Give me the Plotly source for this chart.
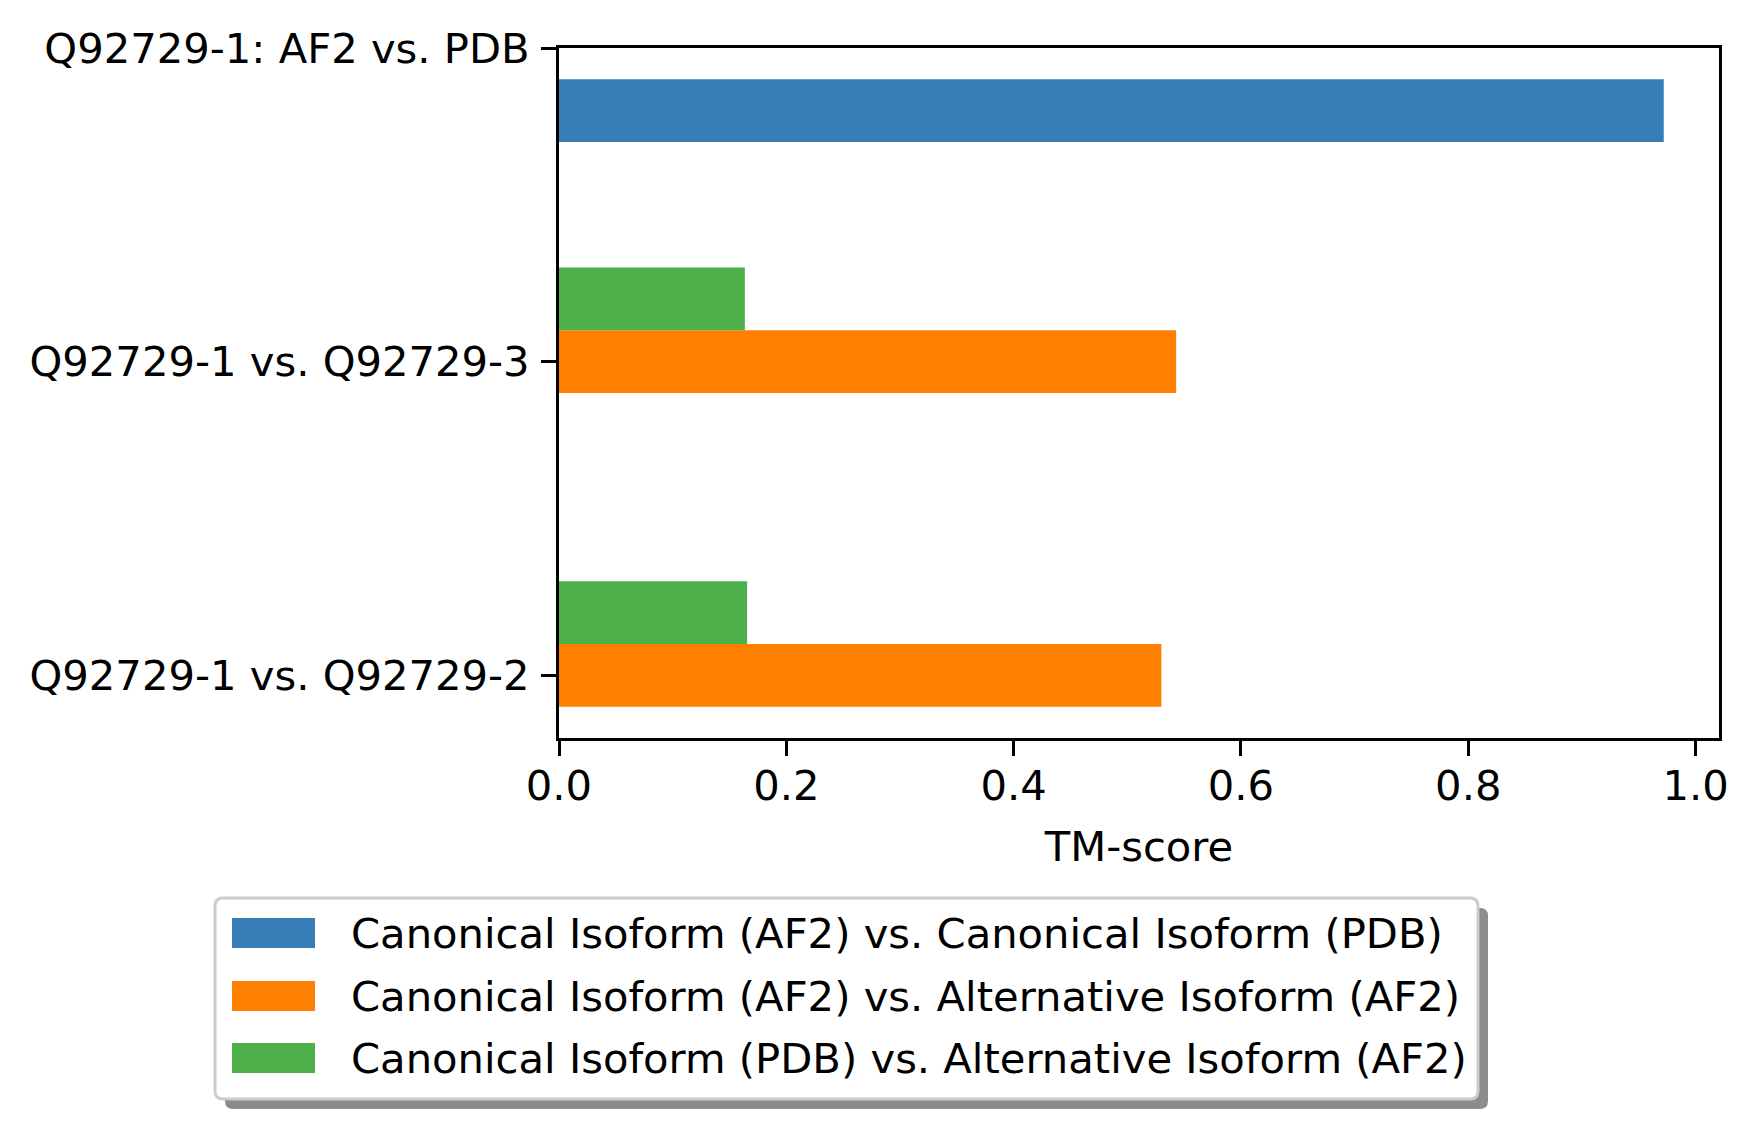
"""Horizontal grouped bars of TM-scores for Q92729 isoform comparisons."""

import plotly.graph_objects as go

# --- data ---------------------------------------------------------------
categories = [
    "Q92729-1 vs. Q92729-2",
    "Q92729-1 vs. Q92729-3",
    "Q92729-1: AF2 vs. PDB",
]
series_names = [
    "Canonical Isoform (AF2) vs. Canonical Isoform (PDB)",
    "Canonical Isoform (AF2) vs. Alternative Isoform (AF2)",
    "Canonical Isoform (PDB) vs. Alternative Isoform (AF2)",
]
af2_vs_pdb = [None, None, 0.972]
af2_vs_alt = [0.530, 0.543, None]
pdb_vs_alt = [0.1655, 0.1635, None]
x_ticks = [0.0, 0.2, 0.4, 0.6, 0.8, 1.0]

# --- styling ------------------------------------------------------------
W, H = 1759, 1129
L, R, T, B = 551, 1711, 40, 730  # plot area in pixels
FONT = "DejaVu Sans"
FS = 41.7
colors = ["#377eb8", "#ff7f00", "#4daf4a"]
bar_w = 0.2
offsets = [-0.3, -0.1, 0.1]


def px_x(px):
    return (px - L) / (R - L)


def px_y(py):
    return (B - py) / (B - T)


def rounded_rect(x0, y0, x1, y1, r):
    # path in paper coords from pixel corners, corner radius r px
    p = [
        f"M{px_x(x0 + r)},{px_y(y0)}",
        f"L{px_x(x1 - r)},{px_y(y0)}",
        f"Q{px_x(x1)},{px_y(y0)} {px_x(x1)},{px_y(y0 + r)}",
        f"L{px_x(x1)},{px_y(y1 - r)}",
        f"Q{px_x(x1)},{px_y(y1)} {px_x(x1 - r)},{px_y(y1)}",
        f"L{px_x(x0 + r)},{px_y(y1)}",
        f"Q{px_x(x0)},{px_y(y1)} {px_x(x0)},{px_y(y1 - r)}",
        f"L{px_x(x0)},{px_y(y0 + r)}",
        f"Q{px_x(x0)},{px_y(y0)} {px_x(x0 + r)},{px_y(y0)}",
        "Z",
    ]
    return " ".join(p)


positions = list(range(len(categories)))
fig = go.Figure()
for name, vals, col, off in zip(
    series_names, [af2_vs_pdb, af2_vs_alt, pdb_vs_alt], colors, offsets
):
    fig.add_trace(
        go.Bar(
            y=positions,
            x=vals,
            orientation="h",
            name=name,
            width=bar_w,
            offset=off,
            marker=dict(color=col, line=dict(width=0)),
            showlegend=False,
        )
    )

fig.update_layout(
    width=W,
    height=H,
    margin=dict(l=L, r=W - R, t=T, b=H - B),
    plot_bgcolor="white",
    paper_bgcolor="white",
    barmode="overlay",
    font=dict(family=FONT, size=FS, color="black"),
)
fig.update_xaxes(
    range=[0, 1.0206],
    tickvals=x_ticks,
    ticktext=[f"{v:.1f}" for v in x_ticks],
    ticks="outside",
    ticklen=15,
    tickwidth=3,
    tickcolor="black",
    ticklabelstandoff=-6,
    showline=True,
    linewidth=3,
    linecolor="black",
    mirror=True,
    showgrid=False,
    zeroline=False,
    title=dict(text="TM-score", standoff=23, font=dict(size=FS)),
)
fig.update_yaxes(
    range=[-0.2, 2.0],
    tickvals=positions,
    ticktext=categories,
    ticks="outside",
    ticklen=15,
    tickwidth=3,
    tickcolor="black",
    ticklabelstandoff=3,
    showline=True,
    linewidth=3,
    linecolor="black",
    mirror=True,
    showgrid=False,
    zeroline=False,
)

# --- legend box drawn below the axes (matplotlib style with shadow) -----
box = (207, 890, 1470, 1091)
shadow = 10
fig.add_shape(
    type="path", xref="paper", yref="paper", layer="below",
    path=rounded_rect(box[0] + shadow, box[1] + shadow,
                      box[2] + shadow, box[3] + shadow, 8),
    fillcolor="#8c8c8c", line=dict(width=0),
)
fig.add_shape(
    type="path", xref="paper", yref="paper",
    path=rounded_rect(*box, 8),
    fillcolor="white", line=dict(color="#cccccc", width=3),
)
row_y = [925, 988, 1050]
for name, col, cy in zip(series_names, colors, row_y):
    fig.add_shape(
        type="rect", xref="paper", yref="paper",
        x0=px_x(224), x1=px_x(307), y0=px_y(cy - 15), y1=px_y(cy + 15),
        fillcolor=col, line=dict(width=0),
    )
    fig.add_annotation(
        x=px_x(341), y=px_y(cy), xref="paper", yref="paper",
        text=name, showarrow=False, xanchor="left", yanchor="middle",
        font=dict(family=FONT, size=FS, color="black"),
    )

fig.write_html("out.html")
